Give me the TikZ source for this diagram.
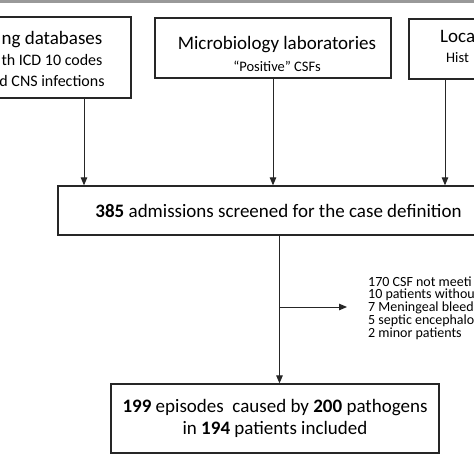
\documentclass[tikz,border=0pt]{standalone}
\usepackage{fontspec}
\setmainfont{Carlito}
\usetikzlibrary{arrows.meta}

\begin{document}
\begin{tikzpicture}[x=1pt,y=-1pt,
    box/.style={draw=black!85, line width=1.3pt, inner sep=0pt},
    arr/.style={-{Triangle[length=8pt,width=6.5pt]}, line width=1pt, black!85}]
    \clip (0,0) rectangle (474,474);
    \fill[white] (0,0) rectangle (474,474);
    % Grey rule at the top
    \fill[gray!80] (0,0) rectangle (474,2.5);

    % Sources
    \node (dbbox) at (45,57.5) [box, minimum width=172, minimum height=81] {};
    \node (dbtext) at (52,59) [align=center, font=\fontsize{16}{21}\selectfont]
        {{\fontsize{19}{21}\selectfont ng databases}\\th ICD 10 codes\\d CNS infections};
    \node (labbox) at (273,48) [box, minimum width=236, minimum height=60] {};
    \node (labtext) at (277,54) [align=center, font=\fontsize{14.5}{22}\selectfont]
        {{\fontsize{19}{22}\selectfont Microbiology laboratories}\\``Positive'' CSFs};
    \node (localbox) at (445,49) [box, minimum width=72, minimum height=60] {};
    \node (localtop) at (440,36) [anchor=west, inner sep=0pt, font=\fontsize{19}{22}\selectfont] {Loca};
    \node (localsub) at (446,58) [anchor=west, inner sep=0pt, font=\fontsize{14.5}{22}\selectfont] {Hist};

    % Screening
    \node (screenbox) at (278.5,210.5) [box, minimum width=441, minimum height=49,
        font=\fontsize{19}{22}\selectfont] {\textbf{385} admissions screened for the case definition};

    % Exclusions
    \node (exclnote) at (347,308) [anchor=west, align=left, inner xsep=21pt, inner ysep=0pt,
        font=\fontsize{14}{12.8}\selectfont]
        {170 CSF not meeti\\10 patients withou\\7 Meningeal bleed\\5 septic encephalo\\2 minor patients};

    % Included
    \node (inclbox) at (275,418.5) [box, minimum width=328, minimum height=69, align=center,
        font=\fontsize{19}{22.5}\selectfont]
        {\textbf{199} episodes\ \ caused by \textbf{200} pathogens\\in \textbf{194} patients included};

    % Arrows
    \coordinate (dbout) at (84,0);
    \coordinate (split) at (279.5,307);
    \draw[arr] (dbbox.south -| dbout) -- (screenbox.north -| dbout);
    \draw[arr] (labbox.south) -- (screenbox.north -| labbox.south);
    \draw[arr] (localbox.south) -- (screenbox.north -| localbox.south);
    \draw[arr] (screenbox.south -| split) -- (inclbox.north -| split);
    \draw[arr] (split) -- (split -| exclnote.west);
\end{tikzpicture}
\end{document}
